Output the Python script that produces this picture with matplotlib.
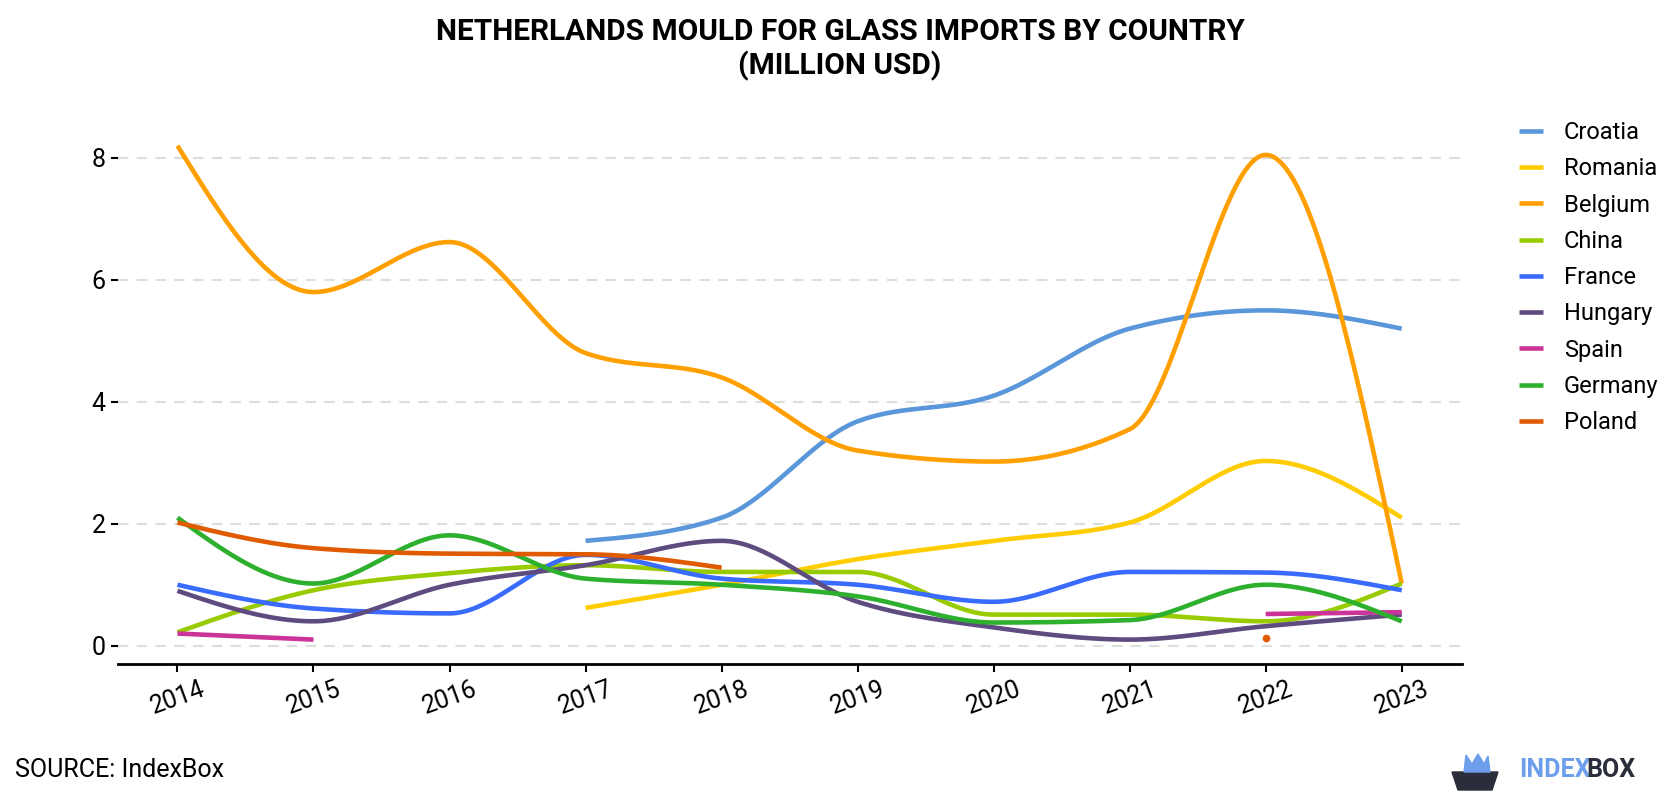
import numpy as np
import matplotlib.pyplot as plt
from matplotlib.patches import Polygon

plt.rcParams['font.family'] = ['Roboto', 'DejaVu Sans']

years = [2014, 2015, 2016, 2017, 2018, 2019, 2020, 2021, 2022, 2023]

croatia = [None, None, None, 1.72, 2.1, 3.68, 4.1, 5.2, 5.5, 5.2]
romania = [None, None, None, 0.62, 1.0, 1.42, 1.72, 2.02, 3.03, 2.1]
belgium = [8.2, 5.8, 6.62, 4.8, 4.4, 3.2, 3.02, 3.55, 8.05, 1.02]
china = [0.22, 0.91, 1.19, 1.32, 1.21, 1.21, 0.51, 0.51, 0.4, 1.02]
france = [1.0, 0.61, 0.53, 1.49, 1.1, 1.0, 0.72, 1.21, 1.2, 0.91]
hungary = [0.9, 0.4, 1.0, 1.32, 1.72, 0.72, 0.3, 0.1, 0.32, 0.51]
spain = [0.2, 0.1, None, None, None, None, None, None, 0.52, 0.55]
germany = [2.1, 1.02, 1.81, 1.1, 1.0, 0.81, 0.38, 0.42, 1.0, 0.4]
poland = [2.02, 1.6, 1.51, 1.5, 1.28, None, None, None, 0.12, None]

names = ['Croatia', 'Romania', 'Belgium', 'China', 'France', 'Hungary', 'Spain', 'Germany', 'Poland']
series = [croatia, romania, belgium, china, france, hungary, spain, germany, poland]
colors = ['#5A96DA', '#FFCC00', '#FF9F00', '#99CC00', '#3A6BFF', '#5E4B80', '#CC3399', '#2DB02D', '#E05A00']


def monotone(x, y, n=40):
    # monotone cubic (like d3 curveMonotoneX)
    x = np.asarray(x, float)
    y = np.asarray(y, float)
    if len(x) < 3:
        return x, y
    h = np.diff(x)
    s = np.diff(y) / h
    t = np.zeros(len(x))
    for i in range(1, len(x) - 1):
        p = (s[i - 1] * h[i] + s[i] * h[i - 1]) / (h[i - 1] + h[i])
        t[i] = (np.sign(s[i - 1]) + np.sign(s[i])) * min(abs(s[i - 1]), abs(s[i]), 0.5 * abs(p))
    t[0] = (3 * s[0] - t[1]) / 2
    t[-1] = (3 * s[-1] - t[-2]) / 2
    xs, ys = [], []
    for i in range(len(x) - 1):
        u = np.linspace(0, 1, n)
        h00 = 2 * u**3 - 3 * u**2 + 1
        h10 = u**3 - 2 * u**2 + u
        h01 = -2 * u**3 + 3 * u**2
        h11 = u**3 - u**2
        xs.append(x[i] + u * h[i])
        ys.append(h00 * y[i] + h10 * h[i] * t[i] + h01 * y[i + 1] + h11 * h[i] * t[i + 1])
    return np.concatenate(xs), np.concatenate(ys)


fig = plt.figure(figsize=(16.8, 8), dpi=100)
ax = fig.add_axes([0.070, 0.17, 0.80, 0.705])

for name, vals, c in zip(names, series, colors):
    segs, cur = [], []
    for yr, v in zip(years, vals):
        if v is None:
            if cur:
                segs.append(cur)
            cur = []
        else:
            cur.append((yr, v))
    if cur:
        segs.append(cur)
    first = True
    for seg in segs:
        sx = [p[0] for p in seg]
        sy = [p[1] for p in seg]
        lab = name if first else None
        if len(seg) == 1:
            ax.plot(sx, sy, 'o', color=c, markersize=4.5)
        else:
            px, py = monotone(sx, sy)
            ax.plot(px, py, color=c, lw=3.3, label=lab, solid_capstyle='butt')
            first = False

ax.set_xlim(2013.56, 2023.44)
ax.set_ylim(-0.3, 8.95)
ax.set_xticks(years)
ax.set_xticklabels([str(y) for y in years], rotation=20, fontsize=18)
ax.set_yticks([0, 2, 4, 6, 8])
ax.tick_params(axis='y', labelsize=18, length=5, width=1.5)
ax.tick_params(axis='x', length=6, width=1.5)
ax.grid(axis='y', color='#dddddd', linestyle=(0, (5, 4)), lw=1.5)
ax.set_axisbelow(True)
for sp in ['top', 'right', 'left']:
    ax.spines[sp].set_visible(False)
ax.spines['bottom'].set_linewidth(2)

ax.legend(loc='upper left', bbox_to_anchor=(1.027, 1.0), frameon=False, fontsize=17,
          handlelength=1.0, handletextpad=0.9, labelspacing=0.56)

fig.text(0.5, 0.978, 'NETHERLANDS MOULD FOR GLASS IMPORTS BY COUNTRY\n(MILLION USD)',
         ha='center', va='top', fontsize=21.5, fontweight='bold', linespacing=1.22)
fig.text(0.009, 0.022, 'SOURCE: IndexBox', fontsize=18, va='bottom')
fig.text(0.904, 0.022, 'INDEX', fontsize=18, fontweight='bold', color='#6D9EEB', va='bottom')
fig.text(0.944, 0.022, 'BOX', fontsize=18, fontweight='bold', color='#2B2D3A', va='bottom')

# small logo icon
W, H = 1680.0, 800.0
cup = [(1452, 772), (1498, 772), (1492, 790), (1458, 790)]
crown = [(1464, 772), (1466, 755), (1472, 764), (1478, 754), (1484, 764), (1488, 756), (1490, 772)]
fig.add_artist(Polygon([(x / W, 1 - y / H) for x, y in cup], closed=True,
                       transform=fig.transFigure, color='#2B2D3A'))
fig.add_artist(Polygon([(x / W, 1 - y / H) for x, y in crown], closed=True,
                       transform=fig.transFigure, color='#6D9EEB'))

fig.savefig('out.png', dpi=100)
